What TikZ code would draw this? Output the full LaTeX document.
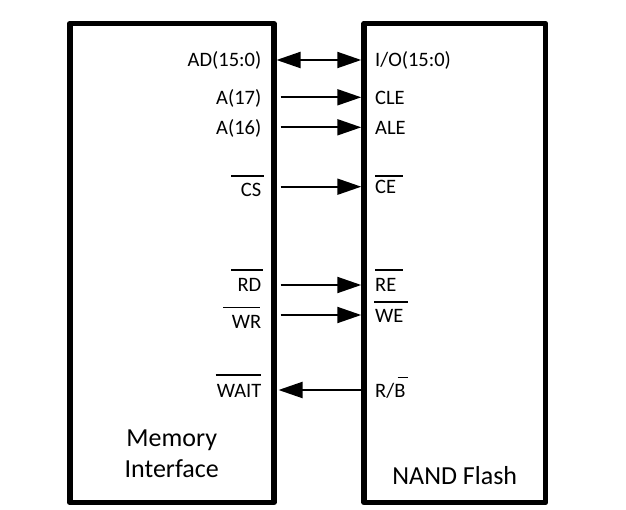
\documentclass[tikz,border=0pt]{standalone}
\usepackage{fontspec}
\setmainfont{Carlito}
\usetikzlibrary{arrows.meta}
\begin{document}
\begin{tikzpicture}[x=1pt,y=-1pt,
  box/.style={draw, line width=5.5pt, line join=round, rectangle, inner sep=0pt},
  lbl/.style={inner sep=0pt, font=\fontsize{20.5}{24}\selectfont},
  ttl/.style={inner sep=0pt, anchor=base, font=\fontsize{26}{30}\selectfont},
  sig/.style={line width=2pt, -{Triangle[length=24pt,width=16pt]}},
  bidir/.style={line width=2pt, {Triangle[length=24pt,width=16pt]}-{Triangle[length=24pt,width=16pt]}},
  ovl/.style={line width=1.5pt}]
\useasboundingbox (0,0) rectangle (626,510);
\fill[white] (0,0) rectangle (626,510);
% boxes
\node[box, minimum width=204pt, minimum height=479pt] (mi) at (171.75,263) {};
\node[box, minimum width=181.5pt, minimum height=479pt] (nand) at (454.75,263) {};
% titles
\node[ttl] (t1) at (171.75,446.7) {Memory};
\node[ttl] (t2) at (171.75,477.7) {Interface};
\node[ttl] (t3) at (454.75,484) {NAND Flash};
% left labels
\node[lbl, anchor=base east] (ad) at (261.5,67) {AD(15:0)};
\node[lbl, anchor=base east] (a17) at (261.5,105) {A(17)};
\node[lbl, anchor=base east] (a16) at (261.5,135) {A(16)};
\node[lbl, anchor=base east] (cs) at (261.5,197) {CS};
\node[lbl, anchor=base east] (rd) at (261.5,292) {RD};
\node[lbl, anchor=base east] (wr) at (261.5,329) {WR};
\node[lbl, anchor=base east] (wait) at (261.5,397) {WAIT};
% right labels
\node[lbl, anchor=base west] (io) at (375,67) {I/O(15:0)};
\node[lbl, anchor=base west] (cle) at (375,105) {CLE};
\node[lbl, anchor=base west] (ale) at (375,135) {ALE};
\node[lbl, anchor=base west] (ce) at (375,194) {CE};
\node[lbl, anchor=base west] (re) at (375,292) {RE};
\node[lbl, anchor=base west] (we) at (375,323) {WE};
\node[lbl, anchor=base west] (rb) at (375,397) {R/B};
% overlines
\draw[ovl] (231,176) -- (264,176);
\draw[ovl] (375,176) -- (403,176);
\draw[ovl] (231,270) -- (262.5,270);
\draw[ovl] (375,270) -- (403,270);
\draw[ovl] (223,307.7) -- (260,307.7);
\draw[ovl] (374,302) -- (408,302);
\draw[ovl] (215.7,375) -- (260.7,375);
\draw[ovl] (397.7,377.7) -- (407.7,377.7);
% row coordinates
\coordinate (r1) at (0,60);
\coordinate (r2) at (0,97.3);
\coordinate (r3) at (0,127.3);
\coordinate (r4) at (0,186.7);
\coordinate (r5) at (0,285);
\coordinate (r6) at (0,315);
\coordinate (r7) at (0,390);
% connectors
\draw[bidir] (r1 -| mi.east) -- (r1 -| nand.west);
\draw[sig] ([xshift=4pt]r2 -| mi.east) -- (r2 -| nand.west);
\draw[sig] ([xshift=4pt]r3 -| mi.east) -- (r3 -| nand.west);
\draw[sig] ([xshift=4pt]r4 -| mi.east) -- (r4 -| nand.west);
\draw[sig] ([xshift=4pt]r5 -| mi.east) -- (r5 -| nand.west);
\draw[sig] ([xshift=4pt]r6 -| mi.east) -- (r6 -| nand.west);
\draw[sig] (r7 -| nand.west) -- ([xshift=2pt]r7 -| mi.east);
\end{tikzpicture}
\end{document}
